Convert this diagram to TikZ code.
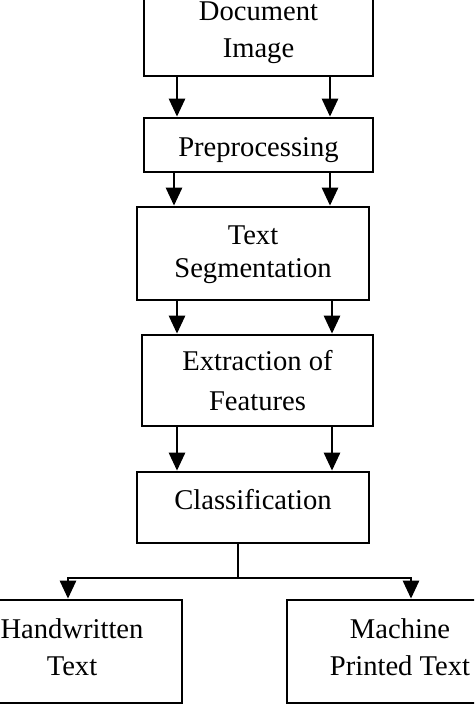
\documentclass[tikz,border=0pt]{standalone}
\usepackage{fontspec}
\setmainfont{Liberation Serif}
\usetikzlibrary{arrows.meta}
\begin{document}
\begin{tikzpicture}[x=1pt,y=-1pt,
  box/.style={draw, line width=2.7pt, inner sep=0pt},
  txt/.style={align=center, inner sep=0pt, font=\fontsize{28.6}{37}\selectfont},
  arr/.style={line width=2.7pt, -{Triangle[length=18pt,width=16pt]}}]
\useasboundingbox (0,0) rectangle (474,722);
\clip (0,0) rectangle (474,722);
\fill[white] (0,0) rectangle (474,722);

\node[box, minimum width=229pt, minimum height=92pt] (doc) at (258.5,30) {};
\node[box, minimum width=229pt, minimum height=54pt] (pre) at (258.5,145) {};
\node[box, minimum width=232pt, minimum height=93pt] (seg) at (253,253.5) {};
\node[box, minimum width=231pt, minimum height=91pt] (ext) at (257.5,380.5) {};
\node[box, minimum width=232pt, minimum height=71pt] (cls) at (253,507.5) {};
\node[box, minimum width=220pt, minimum height=103pt] (hw) at (72,651.5) {};
\node[box, minimum width=226pt, minimum height=103pt] (mp) at (400,651.5) {};

\node[txt] (docT) at ([yshift=-3pt]doc.center) {Document\\Image};
\node[txt] (preT) at ([yshift=-5pt]pre.center) {Preprocessing};
\node[txt, font=\fontsize{28.6}{33}\selectfont] (segT) at ([yshift=-1.5pt]seg.center) {Text\\Segmentation};
\node[txt, font=\fontsize{28.6}{40}\selectfont] (extT) at (ext.center) {Extraction of\\Features};
\node[txt] (clsT) at ([yshift=8pt]cls.center) {Classification};
\node[txt] (hwT) at ([yshift=4pt]hw.center) {Handwritten\\Text};
\node[txt] (mpT) at ([yshift=4pt]mp.center) {Machine\\Printed Text};

\coordinate (a1) at (177,0);
\coordinate (b1) at (330,0);
\coordinate (a2) at (174,0);
\coordinate (b2) at (330,0);
\coordinate (a3) at (177,0);
\coordinate (b3) at (332,0);
\coordinate (stem) at (238,0);
\coordinate (jl) at (68,578);
\coordinate (jr) at (411,578);

\draw[arr] (doc.south -| a1) -- (pre.north -| a1);
\draw[arr] (doc.south -| b1) -- (pre.north -| b1);
\draw[arr] (pre.south -| a2) -- (seg.north -| a2);
\draw[arr] (pre.south -| b2) -- (seg.north -| b2);
\draw[arr] (seg.south -| a3) -- (ext.north -| a3);
\draw[arr] (seg.south -| b3) -- (ext.north -| b3);
\draw[arr] (ext.south -| a3) -- (cls.north -| a3);
\draw[arr] (ext.south -| b3) -- (cls.north -| b3);

\draw[arr] (cls.south -| stem) |- (jl) -- (hw.north -| jl);
\draw[arr] (cls.south -| stem) |- (jr) -- (mp.north -| jr);
\end{tikzpicture}
\end{document}
